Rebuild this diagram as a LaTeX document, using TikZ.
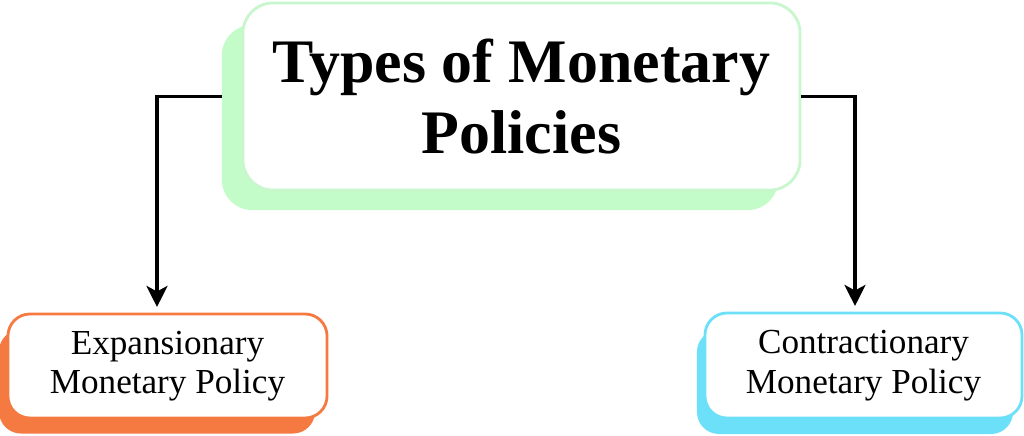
\documentclass[tikz,border=0pt]{standalone}
\usepackage{fontspec}
\setmainfont{Liberation Serif}
\usetikzlibrary{arrows.meta}

\definecolor{mintgreen}{HTML}{C4FCC9}
\definecolor{mintline}{HTML}{C8F6CD}
\definecolor{policyorange}{HTML}{F47A42}
\definecolor{policyblue}{HTML}{6DE0F9}

\begin{document}
\begin{tikzpicture}[x=0.025cm, y=-0.025cm,
    shadowbox/.style={rectangle, rounded corners=0.55cm, draw=none},
    frontbox/.style={rectangle, rounded corners=0.55cm, fill=white, line width=2pt, align=center},
    connector/.style={line width=2.2pt, -{Stealth[length=15pt, width=15pt, inset=4pt]}, shorten >=4pt}]
  \useasboundingbox (0,0) rectangle (1024,435);

    \node (topshadow) at (500,117.5) [shadowbox, fill=mintgreen, rounded corners=0.75cm,
        minimum width=13.9cm, minimum height=4.625cm]{};
    \node (top) at (521.5,96.5) [frontbox, draw=mintline, rounded corners=0.75cm,
        minimum width=13.925cm, minimum height=4.675cm,
        font=\fontsize{44}{50}\selectfont\bfseries]{Types of Monetary\\Policies};

    \node (leftshadow) at (157,381.5) [shadowbox, fill=policyorange,
        minimum width=7.9cm, minimum height=2.6cm]{};
    \node (left) at (167.5,366) [frontbox, draw=policyorange,
        minimum width=7.975cm, minimum height=2.6cm,
        font=\fontsize{25}{28}\selectfont]{Expansionary\\Monetary Policy};

    \node (rightshadow) at (855,382) [shadowbox, fill=policyblue,
        minimum width=7.9cm, minimum height=2.6cm]{};
    \node (right) at (863.5,365.5) [frontbox, draw=policyblue,
        minimum width=7.925cm, minimum height=2.625cm,
        font=\fontsize{25}{28}\selectfont]{Contractionary\\Monetary Policy};

     \draw[connector] (topshadow.west |- top.center) -| (leftshadow |- left.north);
     \draw[connector] (top.east) -| (rightshadow |- right.north);
  \end{tikzpicture}
\end{document}
